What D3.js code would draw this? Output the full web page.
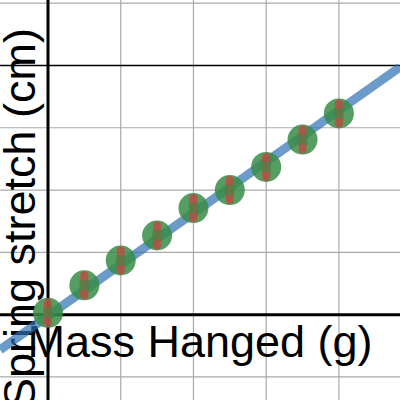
<!DOCTYPE html>
<html><head><script src="https://cdnjs.cloudflare.com/ajax/libs/d3/7.8.5/d3.min.js"></script>
<style>body{margin:0}svg{display:block}</style></head>
<body><script>
var massX = [0, 0.5, 1, 1.5, 2, 2.5, 3, 3.5, 4];
var stretchY = [0.03, 0.47, 0.87, 1.27, 1.71, 2.0, 2.37, 2.81, 3.23];
var fitSlope = 0.825, fitIntercept = -0.02;
var gridX = [-1, 0, 1, 2, 3, 4, 5];
var gridY = [-1, 0, 1, 2, 3, 4, 5];

var W = 400, H = 400;
var x = d3.scaleLinear().domain([-0.66, 4.84]).range([0, W]);
var y = d3.scaleLinear().domain([-1.37, 5.05]).range([H, 0]);
var svg = d3.select("body").append("svg").attr("width", W).attr("height", H).style("background", "#fff");

svg.selectAll(".gx").data(gridX).enter().append("line")
  .attr("x1", d => x(d)).attr("x2", d => x(d)).attr("y1", 0).attr("y2", H)
  .attr("stroke", "#aaa").attr("stroke-width", 1.2);
svg.selectAll(".gy").data(gridY).enter().append("line")
  .attr("y1", d => y(d)).attr("y2", d => y(d)).attr("x1", 0).attr("x2", W)
  .attr("stroke", d => d == 4 ? "#000" : "#aaa").attr("stroke-width", d => d == 4 ? 1.5 : 1.2);
// axes
svg.append("line").attr("x1", x(0)).attr("x2", x(0)).attr("y1", 0).attr("y2", H).attr("stroke", "#000").attr("stroke-width", 3);
svg.append("line").attr("y1", y(0)).attr("y2", y(0)).attr("x1", 0).attr("x2", W).attr("stroke", "#000").attr("stroke-width", 3);

svg.append("text").attr("x", 200).attr("y", 357).attr("text-anchor", "middle")
  .attr("font-family", "Liberation Sans, Arial").attr("font-size", 45).text("Mass Hanged (g)");
svg.append("text").attr("transform", "translate(35,28) rotate(-90)").attr("text-anchor", "end")
  .attr("font-family", "Liberation Sans, Arial").attr("font-size", 45).text("Spring stretch (cm)");

var xs = [-0.66, 4.84];
svg.append("line").attr("x1", x(xs[0])).attr("y1", y(fitIntercept + fitSlope * xs[0]))
  .attr("x2", x(xs[1])).attr("y2", y(fitIntercept + fitSlope * xs[1]))
  .attr("stroke", "#2d70b3").attr("stroke-opacity", 0.7).attr("stroke-width", 9);

var pts = svg.selectAll(".p").data(massX).enter().append("g")
  .attr("transform", (d, i) => "translate(" + x(d) + "," + y(stretchY[i]) + ")");
pts.append("circle").attr("r", 15).attr("fill", "#388c46").attr("fill-opacity", 0.85);
pts.append("line").attr("y1", -10).attr("y2", 10).attr("stroke", "#c74440").attr("stroke-opacity", 0.75)
  .attr("stroke-width", 8).attr("stroke-linecap", "round");
pts.append("rect").attr("x", -5).attr("y", -5).attr("width", 10).attr("height", 10).attr("fill", "#388c46").attr("fill-opacity", 0.6);
</script></body></html>
